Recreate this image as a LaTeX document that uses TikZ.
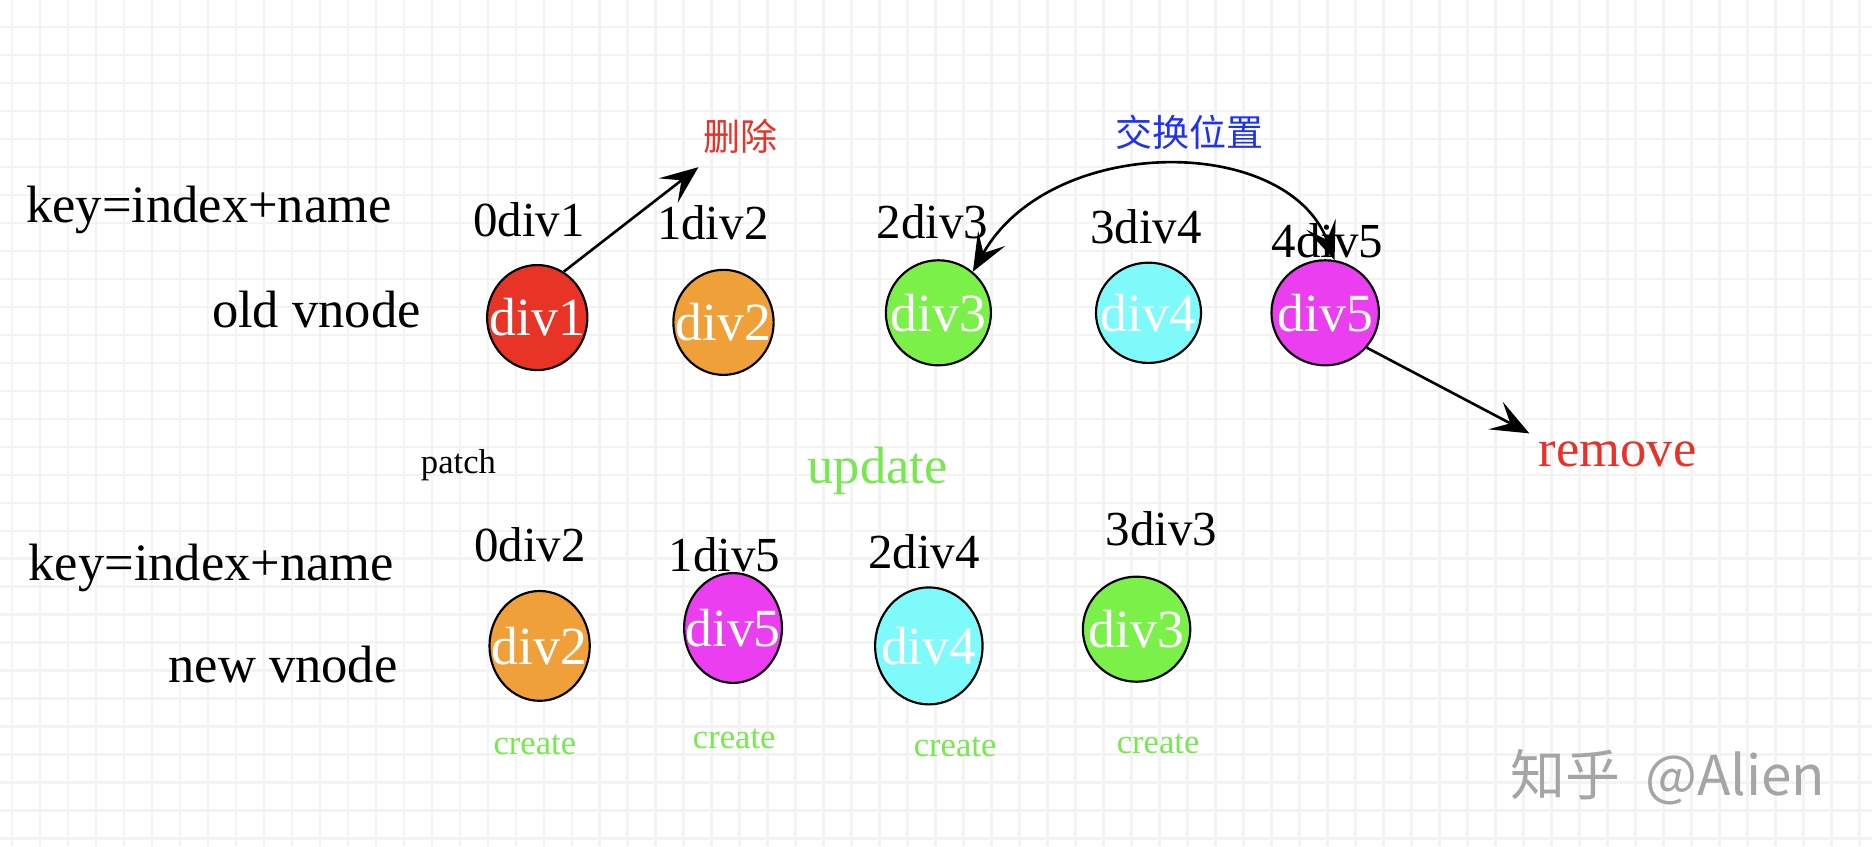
\documentclass[tikz,border=0pt]{standalone}
\usepackage{fontspec}
\setmainfont{Liberation Serif}
\newfontfamily\cjk{Noto Sans CJK SC}
\usetikzlibrary{shapes.geometric,arrows.meta}
\definecolor{cred}{RGB}{232,52,38}
\definecolor{corange}{RGB}{240,160,56}
\definecolor{cgreen}{RGB}{122,240,72}
\definecolor{ccyan}{RGB}{126,250,250}
\definecolor{cmag}{RGB}{234,62,240}
\definecolor{tgreen}{RGB}{120,232,80}
\definecolor{tred}{RGB}{230,50,40}
\definecolor{tblue}{RGB}{30,50,240}
\definecolor{gridc}{RGB}{243,243,243}
\definecolor{wm}{RGB}{165,165,165}
\newcommand{\ctext}[1]{\makebox[0pt][c]{#1}}
\begin{document}
\begin{tikzpicture}[x=0.5pt,y=-0.5pt,
  vn/.style={ellipse,draw=black,line width=0.9pt,inner sep=0pt,text=white,font=\fontsize{22.5}{24}\selectfont},
  big/.style={font=\fontsize{22}{24}\selectfont,anchor=base,inner sep=0pt},
  lbl/.style={font=\fontsize{20.5}{22}\selectfont,anchor=base,inner sep=0pt},
  small/.style={font=\fontsize{14.5}{16}\selectfont,anchor=base,inner sep=0pt},
  cjklbl/.style={font=\cjk\fontsize{15.5}{17}\selectfont,inner sep=0pt},
  conn/.style={draw=black,line width=1.1pt,-{Stealth[length=16pt,width=13pt,inset=7pt]}},
  dconn/.style={draw=black,line width=1.1pt,{Stealth[length=16pt,width=13pt,inset=7pt]}-{Stealth[length=16pt,width=13pt,inset=7pt]}},
  gridline/.style={draw=gridc,line width=1.2pt}]
\useasboundingbox (0,0) rectangle (1568,709);
\fill[white] (0,0) rectangle (1568,709);
\foreach \i in {0,...,66} \draw[gridline] ({10.05+23.45*\i},0) -- ({10.05+23.45*\i},709);
\foreach \j in {0,...,29} \draw[gridline] (0,{22.6+23.45*\j}) -- (1568,{22.6+23.45*\j});

% left labels
\node[big] (k1) at (175,186) {key=index+name};
\node[big] (ov) at (265,274) {old vnode};
\node[big] (k2) at (177,486) {key=index+name};
\node[big] (nv) at (237,572) {new vnode};

% old row labels
\node[lbl] (l01) at (443,198) {0div1};
\node[lbl] (l12) at (597,201) {1div2};
\node[lbl] (l23) at (781,200) {2div3};
\node[lbl] (l34) at (960,204) {3div4};
\node[lbl] (l45) at (1112,216) {4div5};

% old row circles
\node[vn,fill=cred,minimum width=42pt,minimum height=44pt] (c1) at (450,266) {\ctext{div1}};
\node[vn,fill=corange,minimum width=42pt,minimum height=44pt] (c2) at (606,270) {\ctext{div2}};
\node[vn,fill=cgreen,minimum width=44pt,minimum height=44pt] (c3) at (786,262) {\ctext{div3}};
\node[vn,fill=ccyan,minimum width=44pt,minimum height=42pt] (c4) at (962,262) {\ctext{div4}};
\node[vn,fill=cmag,minimum width=45pt,minimum height=44pt] (c5) at (1110,262) {\ctext{div5}};

% new row labels
\node[lbl] (n02) at (444,470) {0div2};
\node[lbl] (n15) at (607,479) {1div5};
\node[lbl] (n24) at (774,476) {2div4};
\node[lbl] (n33) at (973,457) {3div3};

% new row circles
\node[vn,fill=corange,minimum width=42pt,minimum height=46pt] (d2) at (452,541) {\ctext{div2}};
\node[vn,fill=cmag,minimum width=41pt,minimum height=46pt] (d5) at (614,526) {\ctext{div5}};
\node[vn,fill=ccyan,minimum width=45pt,minimum height=49pt] (d4) at (778,541) {\ctext{div4}};
\node[vn,fill=cgreen,minimum width=45pt,minimum height=44pt] (d3) at (952,527) {\ctext{div3}};

% create labels
\node[small,text=tgreen] (cr1) at (448,632) {create};
\node[small,text=tgreen] (cr2) at (615,627) {create};
\node[small,text=tgreen] (cr3) at (800,634) {create};
\node[small,text=tgreen] (cr4) at (970,631) {create};

% misc labels
\node[small] (pt) at (384,397) {patch};
\node[big,text=tgreen] (up) at (735,405) {update};
\node[big,text=tred] (rm) at (1355,391) {remove};
\node[cjklbl,text=tred] (del) at (620,114) {删除};
\node[cjklbl,text=tblue] (swp) at (996,111) {交换位置};
\node[font=\cjk\fontsize{23}{25}\selectfont,text=wm,inner sep=0pt] (wmk) at (1397,651) {知乎\hspace{0.45em}@Alien};

% connectors
\coordinate (delT) at (585,140);
\coordinate (rmT) at (1281,363);
\draw[conn] (c1.60) -- (delT);
\draw[conn] (c5.-40) -- (rmT);
\draw[dconn] (c3.50) .. controls (880,112) and (1078,112) .. (c5.80);
\end{tikzpicture}
\end{document}
